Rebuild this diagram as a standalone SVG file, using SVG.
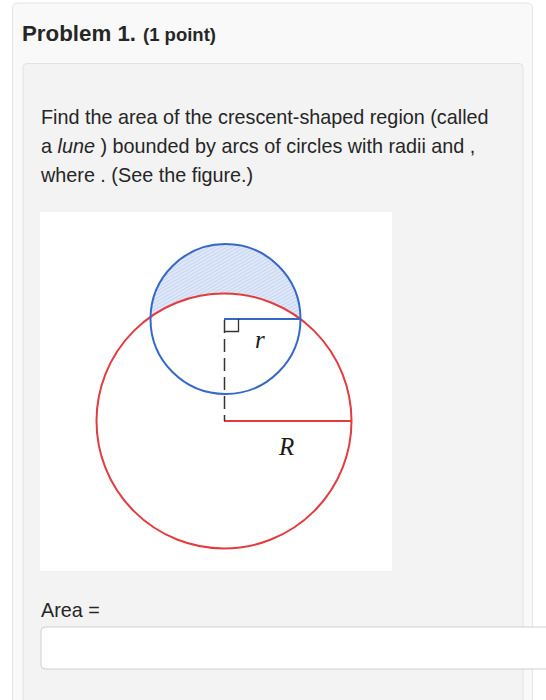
<svg xmlns="http://www.w3.org/2000/svg" width="546" height="700" viewBox="0 0 546 700">
<style>
.t{font-family:"Liberation Sans",Arial,sans-serif;fill:#262626}
.body{font-size:19.8px}
.lbl{font-family:"Liberation Serif","Times New Roman",serif;font-style:italic;font-size:25px;fill:#1a1a1a}
</style>
<defs>
<pattern id="hatch" width="3" height="3" patternUnits="userSpaceOnUse" patternTransform="rotate(-30)">
<rect width="3" height="3" fill="#dfe8f8"/>
<line x1="0" y1="0" x2="3" y2="0" stroke="#aec3ea" stroke-width="1"/>
</pattern>
<mask id="outsideRed">
<rect x="0" y="0" width="546" height="700" fill="#fff"/>
<circle cx="224" cy="421" r="127.5" fill="#000"/>
</mask>
</defs>
<rect x="0" y="0" width="546" height="700" fill="#ffffff"/>
<g id="card">
<rect x="12.5" y="3" width="520" height="720" rx="5" fill="#f9f9f9" stroke="#e4e4e4"/>
<text class="t" x="22" y="41" font-size="22.3" font-weight="bold">Problem 1.</text>
<text class="t" x="143" y="41" font-size="18.5" font-weight="bold">(1 point)</text>
</g>
<g id="well">
<rect x="23" y="63.5" width="500" height="660" rx="4" fill="#f3f3f3" stroke="#e2e2e2"/>
<text class="t body" x="41" y="124">Find the area of the crescent-shaped region (called</text>
<text class="t body" x="41" y="153">a <tspan font-style="italic">lune</tspan> ) bounded by arcs of circles with radii and ,</text>
<text class="t body" x="41" y="182">where . (See the figure.)</text>
</g>
<g id="figure">
<rect x="40" y="212" width="352" height="359" fill="#ffffff"/>
<circle id="lune" cx="225.5" cy="319" r="75" fill="url(#hatch)" mask="url(#outsideRed)"/>
<circle cx="224" cy="421" r="127.5" fill="none" stroke="#e23c3f" stroke-width="2"/>
<circle cx="225.5" cy="319" r="75" fill="none" stroke="#3568c9" stroke-width="2"/>
<line x1="224" y1="319" x2="300.5" y2="319" stroke="#3568c9" stroke-width="2"/>
<line x1="224" y1="421" x2="352" y2="421" stroke="#e23c3f" stroke-width="2"/>
<line x1="224.5" y1="320" x2="224.5" y2="421" stroke="#333" stroke-width="1.5" stroke-dasharray="13 6"/>
<path d="M224.5,331.5 H238.5 V319" fill="none" stroke="#333" stroke-width="1.3"/>
<text class="lbl" x="255" y="348">r</text>
<text class="lbl" x="279" y="455">R</text>
</g>
<g id="answer">
<text class="t body" x="41" y="617">Area =</text>
<rect x="41" y="627" width="530" height="42" rx="4" fill="#ffffff" stroke="#cfcfcf"/>
</g>
</svg>
